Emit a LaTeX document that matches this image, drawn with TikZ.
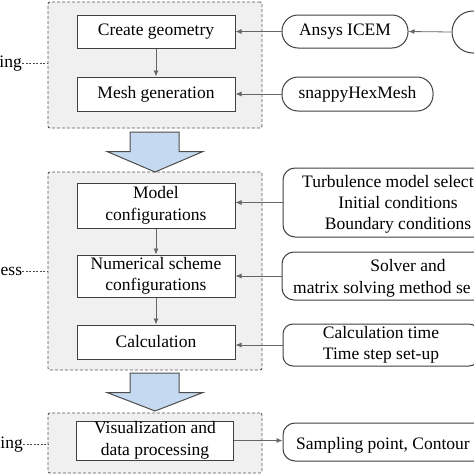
\documentclass[tikz,border=0pt]{standalone}
\usepackage{fontspec}
\setmainfont{Liberation Serif}
\usepackage{xcolor}
\usetikzlibrary{arrows.meta, positioning}

\definecolor{arrowblue}{HTML}{C5DAF0}

\begin{document}
\begin{tikzpicture}[x=1pt, y=-1pt, >={Latex[length=6pt,width=5pt]}, font=\fontsize{17.5}{21.5}\selectfont]
		\tikzstyle{grp} = [draw=black!65, dashed, dash pattern=on 3pt off 2pt, fill=black!6, line width=0.9pt, rounded corners=2pt, inner sep=0pt]
		\tikzstyle{task} = [draw=black!75, fill=white, line width=1pt, minimum width=158pt, inner sep=0pt, align=center]
		\tikzstyle{tool} = [draw=black!75, fill=white, line width=1pt, rounded corners=14pt, inner sep=0pt, align=center]
		\tikzstyle{invis} = [draw=none, inner sep=0pt]
		\tikzstyle{conn} = [->, draw=black!60, line width=0.8pt]
		\tikzstyle{lead} = [draw=black!70, dashed, dash pattern=on 2pt off 1.5pt, line width=0.8pt]
		\tikzstyle{bigarrow} = [fill=arrowblue, draw=black!70, line width=1pt]
		
		\useasboundingbox (0,0) rectangle (474,474);
		\clip (0,0) rectangle (474,474);
		
		% stage frames
		\node[grp, minimum width=214pt, minimum height=126pt] at (155,65) (pre) {};
		\node[grp, minimum width=214pt, minimum height=198pt] at (155,271) (solve) {};
		\node[grp, minimum width=214pt, minimum height=60pt] at (155,443) (post) {};
		
		% steps
		\node[task, minimum height=33pt] at (156,31.5) (geom) {Create geometry};
		\node[task, minimum height=34pt] at (156,94) (mesh) {Mesh generation};
		\node[task, minimum height=45pt] at (156,205.5) (model) {Model\\configurations};
		\node[task, minimum height=42pt] at (156,276) (scheme) {Numerical scheme\\configurations};
		\node[task, minimum height=34pt] at (156,342) (calc) {Calculation};
		\node[task, minimum height=39pt, minimum width=157pt] at (155,440.5) (visu) {Visualization and\\data processing};
		
		% tools and settings
		\node[tool, minimum width=126pt, minimum height=33pt, rounded corners=16pt] at (345,31.5) (icem) {Ansys ICEM};
		\node[tool, minimum width=151pt, minimum height=34pt, rounded corners=16pt] at (357.5,94) (snappy) {snappyHexMesh};
		\node[tool, minimum width=80pt, minimum height=42pt, rounded corners=21pt] at (492,32) (cad) {};
		
		\node[tool, minimum width=230pt, minimum height=69pt, rounded corners=12pt] at (398,202.5) (turb) {};
		\node[invis, anchor=base west] at (302,187) (turb1) {Turbulence model select};
		\node[invis, anchor=base] at (398,208) (turb2) {Initial conditions};
		\node[invis, anchor=base] at (398,229) (turb3) {Boundary conditions};
		
		\node[tool, minimum width=252pt, minimum height=48pt, rounded corners=12pt] at (408,276) (solver) {};
		\node[invis, anchor=base] at (408,271) (solv1) {Solver and};
		\node[invis, anchor=base west] at (293,293) (solv2) {matrix solving method se};
		
		\node[tool, minimum width=196pt, minimum height=42pt, rounded corners=10pt] at (381,345) (ctime) {Calculation time\\Time step set-up};
		
		\node[tool, minimum width=220pt, minimum height=38pt, rounded corners=12pt] at (393,442) (sample) {};
		\node[invis, anchor=base west] at (296,449) (samp1) {Sampling point, Contour};
		
		% stage labels
		\node[invis, anchor=base east] at (22,67) (lab1) {ing};
		\node[invis, anchor=base west] at (0.5,275) (lab2) {ess};
		\node[invis, anchor=base east] at (23,448) (lab3) {ing};
		\draw[lead] (lab1.east) -- (lab1.east -| pre.west);
		\draw[lead] (lab2.east) -- (lab2.east -| solve.west);
		\draw[lead] (lab3.east) -- (lab3.east -| post.west);
		
		% connectors
		\draw[conn] (geom) -- (mesh);
		\draw[conn] (model) -- (scheme);
		\draw[conn] (scheme) -- (calc);
		\draw[conn] (cad.west) -- (icem.east);
		\draw[conn] (icem.west) -- (icem.west -| geom.east);
		\draw[conn] (snappy.west) -- (snappy.west -| mesh.east);
		\draw[conn] (turb.west) -- (turb.west -| model.east);
		\draw[conn] (solver.west) -- (solver.west -| scheme.east);
		\draw[conn] (ctime.west) -- (ctime.west -| calc.east);
		\draw[conn] (visu.east) -- (visu.east -| sample.west);
		
		% block arrows between stages
		\foreach \t/\b in {132/172, 373/411}
			\draw[bigarrow] (130,\t) -- (179,\t) -- (179,\t+19.5) -- (203,\t+19.5) -- (155,\b) -- (107,\t+19.5) -- (130,\t+19.5) -- cycle;
	\end{tikzpicture}
\end{document}
